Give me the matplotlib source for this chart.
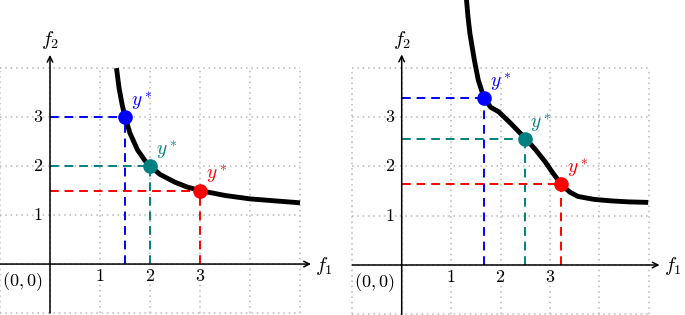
import matplotlib.pyplot as plt

plt.rcParams["mathtext.fontset"] = "cm"
plt.rcParams["font.family"] = "DejaVu Serif"

# left panel: convex front
curve1_x = [1.33, 1.38, 1.44, 1.5, 1.6, 1.75, 1.9, 2.0, 2.2, 2.5, 2.75, 3.0, 3.5, 4.0, 4.5, 5.0]
curve1_y = [4.0, 3.6, 3.27, 3.0, 2.67, 2.33, 2.11, 2.0, 1.83, 1.67, 1.57, 1.5, 1.4, 1.33, 1.29, 1.25]
pts1_x = [1.5, 2.0, 3.0]
pts1_y = [3.0, 2.0, 1.5]
ticks1 = [1, 2, 3]

# right panel: non-convex front
curve2_x = [1.31, 1.34, 1.38, 1.43, 1.47, 1.55, 1.67, 1.8, 1.96, 2.2, 2.49, 2.7, 2.9, 3.05, 3.23, 3.4, 3.57, 3.9, 4.25, 4.6, 4.99]
curve2_y = [5.4, 5.05, 4.7, 4.4, 4.16, 3.75, 3.38, 3.2, 3.11, 2.88, 2.58, 2.35, 2.1, 1.88, 1.64, 1.48, 1.39, 1.33, 1.3, 1.28, 1.27]
pts2_x = [1.67, 2.49, 3.23]
pts2_y = [3.38, 2.55, 1.64]
ticks2 = [1, 2, 3]

colors = ["#0000ff", "#008080", "#ff0000"]

fig = plt.figure(figsize=(6.85, 3.15), dpi=100)
ax1 = fig.add_axes([0, 0, 340 / 685, 1])
ax2 = fig.add_axes([345 / 685, 0, 340 / 685, 1])
ax1.set_xlim(-1, 5.8)
ax1.set_ylim(-1.04, 5.39)
ax2.set_xlim(-1.148, 5.735)
ax2.set_ylim(-1.014, 5.375)


def draw_panel(ax, cx, cy, px, py, ticks):
    ax.axis("off")
    # dotted grid
    for g in range(-1, 6):
        ax.plot([g, g], [-1, 4], ls=(0, (1, 2.5)), color="#b8b8b8", lw=1.1, zorder=1)
    for g in range(-1, 5):
        ax.plot([-1, 5], [g, g], ls=(0, (1, 2.5)), color="#b8b8b8", lw=1.1, zorder=1)
    # axes with arrows
    ax.annotate("", xy=(5.22, 0), xytext=(-1, 0),
                arrowprops=dict(arrowstyle="->", lw=1.1, color="black", shrinkA=0, shrinkB=0))
    ax.annotate("", xy=(0, 4.27), xytext=(0, -1.0),
                arrowprops=dict(arrowstyle="->", lw=1.1, color="black", shrinkA=0, shrinkB=0))
    ax.text(5.3, -0.03, "$f_1$", fontsize=14.5, ha="left", va="center")
    ax.text(0, 4.57, "$f_2$", fontsize=14.5, ha="center", va="center")
    ax.text(-0.55, -0.35, "$(0,0)$", fontsize=13, ha="center", va="center")
    for t in ticks:
        ax.text(t, -0.25, "$%d$" % t, fontsize=13, ha="center", va="center")
        ax.text(-0.24, t, "$%d$" % t, fontsize=13, ha="center", va="center")
    # front curve
    ax.plot(cx, cy, color="black", lw=3.5, solid_capstyle="butt", zorder=3)
    # dashed projections and points
    for x, y, c in zip(px, py, colors):
        ax.plot([0, x], [y, y], color=c, lw=1.4, ls=(0, (4.5, 3)), zorder=2)
        ax.plot([x, x], [0, y], color=c, lw=1.4, ls=(0, (4.5, 3)), zorder=2)
        ax.plot(x, y, "o", color=c, ms=9.5, zorder=4)
        ax.annotate("$y^*$", xy=(x, y), xytext=(4, 3), textcoords="offset points",
                    color=c, fontsize=14, ha="left", va="bottom")


draw_panel(ax1, curve1_x, curve1_y, pts1_x, pts1_y, ticks1)
draw_panel(ax2, curve2_x, curve2_y, pts2_x, pts2_y, ticks2)

fig.savefig("out.png", dpi=100)
